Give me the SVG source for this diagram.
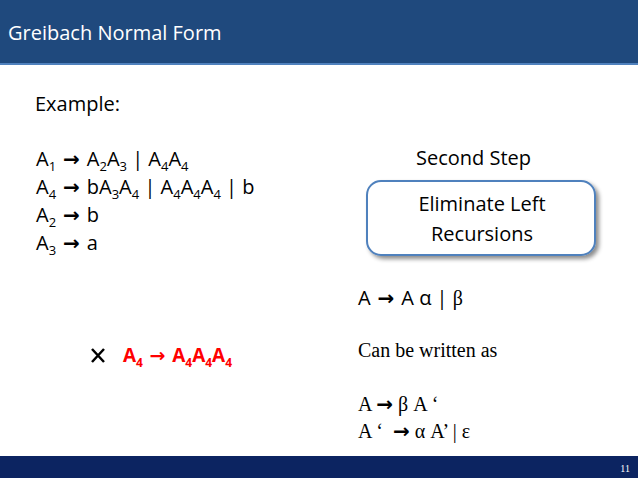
<svg xmlns="http://www.w3.org/2000/svg" width="638" height="478" viewBox="0 0 638 478">
<style>
.s{font-family:"Open Sans","Liberation Sans",sans-serif;font-size:20px;fill:#000}
.t{font-family:"Liberation Serif",serif;font-size:20px;fill:#000}
.sub{font-size:13px;fill:#000}
.ar{font-family:"DejaVu Sans",sans-serif;font-weight:bold}
</style>
<defs>
<filter id="sh" x="-10%" y="-10%" width="130%" height="140%"><feDropShadow dx="3" dy="3" stdDeviation="2" flood-color="#000" flood-opacity="0.45"/></filter>
</defs>
<rect width="638" height="478" fill="#fff"/>
<g id="header"><rect x="0" y="0" width="638" height="63" fill="#1F497D"/><rect x="0" y="63" width="638" height="2" fill="#4f81bd"/>
<text x="8" y="40" font-family="Open Sans,Liberation Sans,sans-serif" font-size="20" fill="#fff">Greibach Normal Form</text></g>
<g id="footer"><rect x="0" y="456" width="638" height="22" fill="#0c2461"/>
<text x="630" y="472" text-anchor="end" font-family="Liberation Serif,serif" font-size="10" fill="#fff">11</text></g>
<g id="example">
<text class="s" x="35" y="111">Example:</text>
<text class="s" x="36" y="166">A<tspan class="sub" dy="5">1</tspan><tspan dy="-5" class="ar"> → </tspan><tspan>A</tspan><tspan class="sub" dy="5">2</tspan><tspan dy="-5">A</tspan><tspan class="sub" dy="5">3</tspan><tspan dy="-5"> | A</tspan><tspan class="sub" dy="5">4</tspan><tspan dy="-5">A</tspan><tspan class="sub" dy="5">4</tspan></text>
<text class="s" x="36" y="194">A<tspan class="sub" dy="5">4</tspan><tspan dy="-5" class="ar"> → </tspan><tspan>bA</tspan><tspan class="sub" dy="5">3</tspan><tspan dy="-5">A</tspan><tspan class="sub" dy="5">4</tspan><tspan dy="-5"> | A</tspan><tspan class="sub" dy="5">4</tspan><tspan dy="-5">A</tspan><tspan class="sub" dy="5">4</tspan><tspan dy="-5">A</tspan><tspan class="sub" dy="5">4</tspan><tspan dy="-5"> | b</tspan></text>
<text class="s" x="36" y="222">A<tspan class="sub" dy="5">2</tspan><tspan dy="-5" class="ar"> → </tspan><tspan>b</tspan></text>
<text class="s" x="36" y="250">A<tspan class="sub" dy="5">3</tspan><tspan dy="-5" class="ar"> → </tspan><tspan>a</tspan></text>
</g>
<g id="wrong">
<path d="M92 349 L104 362 M104 349 L92 362" stroke="#000" stroke-width="2.5"/>
<text x="123" y="362" font-family="Open Sans,Liberation Sans,sans-serif" font-size="19" font-weight="bold" fill="#f00">A<tspan font-size="12" dy="5">4</tspan><tspan dy="-5" font-family="DejaVu Sans,sans-serif"> → </tspan><tspan>A</tspan><tspan font-size="12" dy="5">4</tspan><tspan dy="-5">A</tspan><tspan font-size="12" dy="5">4</tspan><tspan dy="-5">A</tspan><tspan font-size="12" dy="5">4</tspan></text>
</g>
<g id="second-step"><text class="s" x="416" y="165">Second Step</text></g>
<g id="box">
<rect x="367" y="181" width="228" height="74" rx="14" fill="#fff" stroke="#4f81bd" stroke-width="2" filter="url(#sh)"/>
<text class="s" x="482" y="211" text-anchor="middle">Eliminate Left</text>
<text class="s" x="482" y="241" text-anchor="middle">Recursions</text>
</g>
<g id="rule">
<text class="s" x="358" y="305">A<tspan class="ar"> → </tspan><tspan>A α | </tspan><tspan font-family="Liberation Serif,serif">β</tspan></text>
<text class="t" x="358" y="357">Can be written as</text>
<text class="t" x="358" y="411">A <tspan class="ar">→</tspan> β A ‘</text>
<text class="t" x="358" y="438" xml:space="preserve">A ‘  <tspan class="ar">→</tspan> α A’ | ε</text>
</g>
</svg>
